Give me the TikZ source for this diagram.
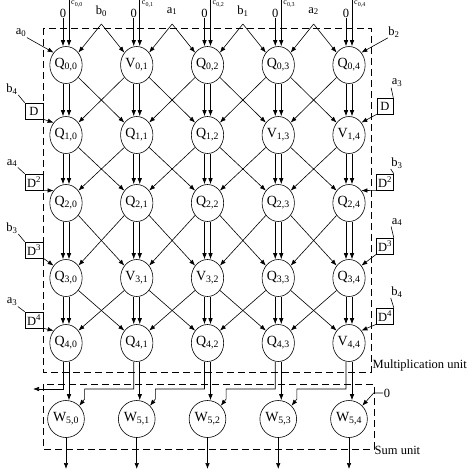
\documentclass[tikz,border=0pt]{standalone}
\usepackage{fontspec}
\setmainfont{Liberation Serif}
\usetikzlibrary{shapes.geometric,arrows.meta,calc}
\begin{document}
\begin{tikzpicture}[x=1pt,y=-1pt,
  cell/.style={ellipse,draw,line width=0.6pt,minimum width=32pt,minimum height=37pt,inner sep=0pt,font=\fontsize{14}{16}\selectfont},
  lbl/.style={inner sep=0.5pt,font=\fontsize{12.5}{14}\selectfont},
  tiny/.style={inner sep=0.5pt,font=\fontsize{8}{9}\selectfont},
  dbox/.style={draw,line width=0.6pt,inner sep=1.5pt,minimum width=16pt,minimum height=16pt,font=\fontsize{12.5}{14}\selectfont},
  arr/.style={-{Latex[length=6pt,width=4.5pt]},line width=0.6pt},
  ln/.style={line width=0.6pt},
  unit/.style={dash pattern=on 7pt off 4pt,line width=0.7pt}]
\useasboundingbox (0,0) rectangle (474,474);

% dashed unit boxes
\draw[unit] (43,28) rectangle (371,372);
\node[lbl,anchor=base west] (mu) at (372,368) {Multiplication unit};
\draw[unit] (43,384) rectangle (374,449);
\node[lbl,anchor=west] (su) at (374,450) {Sum unit};

% cells
\foreach \r/\c/\L in {0/0/Q,0/1/V,0/2/Q,0/3/Q,0/4/Q,
                      1/0/Q,1/1/Q,1/2/Q,1/3/V,1/4/V,
                      2/0/Q,2/1/Q,2/2/Q,2/3/Q,2/4/Q,
                      3/0/Q,3/1/V,3/2/V,3/3/Q,3/4/Q,
                      4/0/Q,4/1/Q,4/2/Q,4/3/Q,4/4/V}{
  \pgfmathsetmacro\yy{{65,135,203,278,343}[\r]}
  \node[cell] (n\r\c) at (66+70.75*\c,\yy) {\L\textsubscript{\r,\c}};
}
\foreach \c in {0,...,4}{
  \node[cell] (w\c) at (66+70.75*\c,419) {W\textsubscript{5,\c}};
  \coordinate (o\c) at (66+70.75*\c,469);
  \draw[arr] (w\c.south) -- (o\c);
}

% top inputs
\foreach \c in {0,...,4}{
  \node[lbl] (z\c) at (66+70.75*\c-3,13) {0};
  \draw[arr] (z\c.south) -- ([xshift=-3pt]n0\c.north);
  \coordinate (tt\c) at (66+70.75*\c+3,0);
  \node[tiny,anchor=north west] (tc\c) at (66+70.75*\c+4.5,0.5) {c\textsubscript{0,\c}};
  \draw[arr] (tt\c) -- ([xshift=3pt]n0\c.north);
}
\foreach \i/\L in {0/b\textsubscript{0},1/a\textsubscript{1},2/b\textsubscript{1},3/a\textsubscript{2}}{
  \pgfmathtruncatemacro\j{\i+1}
  \node[lbl] (tb\i) at (66+70.75*\i+35.4,11) {\L};
  \coordinate (ap\i) at (66+70.75*\i+35.4,24);
  \draw[arr] (ap\i) -- (n0\i.45);
  \draw[arr] (ap\i) -- (n0\j.135);
}

% vertical double arrows and diagonals
\foreach \r in {1,...,4}{
  \pgfmathtruncatemacro\p{\r-1}
  \foreach \c in {0,...,4}{
    \draw[arr] ([xshift=-3pt]n\p\c.south) -- ([xshift=-3pt]n\r\c.north);
    \draw[arr] ([xshift=3pt]n\p\c.south) -- ([xshift=3pt]n\r\c.north);
  }
  \foreach \c in {0,...,3}{
    \pgfmathtruncatemacro\cc{\c+1}
    \draw[arr] (n\p\c.-45) -- (n\r\cc.135);
    \draw[arr] (n\p\cc.-135) -- (n\r\c.45);
  }
}

% left side inputs
\node[lbl] (la0) at (21,33) {a\textsubscript{0}};
\draw[arr] (la0.south east) -- (n00.135);
\foreach \r/\ly/\by/\L/\D in {1/89/111/b\textsubscript{4}/D,
                              2/163/182/a\textsubscript{4}/D\textsuperscript{2},
                              3/228/250/b\textsubscript{3}/D\textsuperscript{3},
                              4/302/320/a\textsubscript{3}/D\textsuperscript{4}}{
  \node[lbl] (ll\r) at (12,\ly) {\L};
  \node[dbox,minimum width=18pt] (ld\r) at (34,\by) {\D};
  \draw[ln] (ll\r.south east) -- (ld\r.north west);
  \draw[arr] (ld\r.south east) -- (n\r0.135);
}

% right side inputs
\node[lbl] (rb0) at (394,32) {b\textsubscript{2}};
\draw[arr] (rb0.south west) -- (n04.45);
\foreach \r/\ly/\by/\L/\D in {1/83/106/a\textsubscript{3}/D,
                              2/163/182/b\textsubscript{3}/D\textsuperscript{2},
                              3/222/246/a\textsubscript{4}/D\textsuperscript{3},
                              4/292/316/b\textsubscript{4}/D\textsuperscript{4}}{
  \node[lbl] (rl\r) at (397,\ly) {\L};
  \node[dbox] (rd\r) at (385,\by) {\D};
  \draw[ln] (rl\r.south west) -- (rd\r.north east);
  \draw[arr] (rd\r.south west) -- (n\r4.45);
}

% bottom: multiplication to sum
\foreach \c in {0,...,4}{
  \draw[arr] ([xshift=3pt]n4\c.south) -- ([xshift=3pt]w\c.north);
}
\coordinate (lft) at (33,389);
\draw[arr] ([xshift=-3pt]n40.south) |- (lft);
\foreach \c in {1,...,4}{
  \pgfmathtruncatemacro\p{\c-1}
  \draw[arr] ([xshift=-3pt]n4\c.south) |- ($(w\p.east)+(0,-30)$) -- ($(w\p.east)+(0,-20)$) -- (w\p.45);
}
\node[lbl] (zr) at (387,393) {0};
\draw[arr] (zr.west) -- ($(w4.east)+(6,-26)$) -- (w4.45);
\end{tikzpicture}
\end{document}
